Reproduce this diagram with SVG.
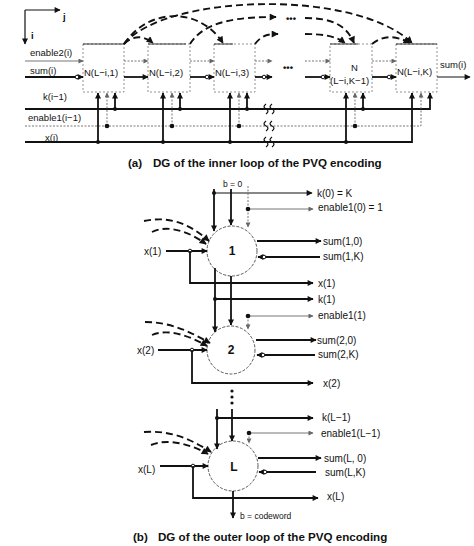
<svg xmlns="http://www.w3.org/2000/svg" width="474" height="546" viewBox="0 0 474 546">
<style>
text{font-family:"Liberation Sans",Arial,sans-serif;fill:#111}
.lb{font-size:9.5px}
.lb2{font-size:10px}
.sm{font-size:8.5px}
.cap{font-size:11.6px;font-weight:bold}
.nd{font-size:12px;font-weight:bold}
.box{fill:none;stroke:#777;stroke-width:0.8;stroke-dasharray:2,2}
.top{fill:none;stroke:#222;stroke-width:0.9}
.circ{fill:#fff;stroke:#444;stroke-width:0.9;stroke-dasharray:3,1.5}
.t{fill:none;stroke:#111;stroke-width:1.8}
.m{fill:none;stroke:#111;stroke-width:1.2}
.g{fill:none;stroke:#666;stroke-width:0.9}
.gd{fill:none;stroke:#666;stroke-width:0.9;stroke-dasharray:2,1.5}
.d{fill:none;stroke:#111;stroke-width:1.9;stroke-dasharray:7,4}
.dot{fill:#111}
.oc{fill:#fff;stroke:#111;stroke-width:1}
</style>
<defs>
<marker id="ah" viewBox="0 0 10 10" refX="9" refY="5" markerWidth="8" markerHeight="6" markerUnits="userSpaceOnUse" orient="auto"><path d="M0,0 L10,5 L0,10 z" fill="#111"/></marker>
<marker id="ahg" viewBox="0 0 10 10" refX="9" refY="5" markerWidth="7" markerHeight="5" markerUnits="userSpaceOnUse" orient="auto"><path d="M0,0 L10,5 L0,10 z" fill="#666"/></marker>
<marker id="ahd" viewBox="0 0 10 10" refX="9" refY="5" markerWidth="9" markerHeight="7" markerUnits="userSpaceOnUse" orient="auto"><path d="M0,0 L10,5 L0,10 z" fill="#111"/></marker>
</defs>

<!-- axis -->
<g id="axis">
<path class="m" d="M25,10 H60" marker-end="url(#ah)"/>
<path class="m" d="M25,10 V44" marker-end="url(#ah)"/>
<text x="63" y="20" class="lb" font-weight="bold">j</text>
<text x="31" y="39" class="lb" font-weight="bold">i</text>
</g>

<!-- top panel nodes -->
<g id="n1"><rect class="box" x="83" y="44" width="41" height="48"/><path class="top" d="M83,44 H124"/><text x="84" y="76" class="lb">N(L−i,1)</text></g>
<g id="n2"><rect class="box" x="148" y="44" width="42" height="48"/><path class="top" d="M148,44 H186"/><text x="149" y="76" class="lb">N(L−i,2)</text></g>
<g id="n3"><rect class="box" x="214" y="44" width="41" height="48"/><path class="top" d="M214,44 H233"/><text x="215" y="76" class="lb">N(L−i,3)</text></g>
<g id="nK1"><rect class="box" x="330" y="44" width="42" height="48"/><path class="top" d="M330,44 H358"/><text x="351" y="71" class="lb">N</text><text x="330" y="84" class="lb">(L−i,K−1)</text></g>
<g id="nK"><rect class="box" x="396" y="44" width="41" height="48"/><path class="top" d="M396,44 H437"/><text x="397" y="75" class="lb">N(L−i,K)</text></g>

<!-- top panel labels -->
<g id="labels-a">
<text x="30" y="56" class="lb">enable2(i)</text>
<text x="30" y="74" class="lb">sum(i)</text>
<text x="43" y="100" class="lb">k(i−1)</text>
<text x="28" y="121" class="lb">enable1(i−1)</text>
<text x="45" y="141" class="lb">x(i)</text>
<text x="440" y="68" class="lb">sum(i)</text>
<text x="283" y="71" class="lb" font-weight="bold">•••</text>
<text x="286" y="22" class="lb" font-weight="bold">•••</text>
<text x="128" y="167" class="cap">(a)</text>
<text x="153" y="167" class="cap">DG of the inner loop  of the PVQ encoding</text>
</g>

<!-- top panel connectors -->
<g id="connectors-a">
<path class="g" d="M25,61 H83" marker-end="url(#ahg)"/>
<path class="gd" d="M124,61 H148" marker-end="url(#ahg)"/>
<path class="gd" d="M190,61 H214" marker-end="url(#ahg)"/>
<path class="gd" d="M255,61 H272" marker-end="url(#ahg)"/>
<path class="gd" d="M305,61 H330" marker-end="url(#ahg)"/>
<path class="gd" d="M372,61 H396" marker-end="url(#ahg)"/>
<path class="t" d="M25,77 H83" marker-end="url(#ah)"/>
<path class="t" d="M124,77 H148" marker-end="url(#ah)"/>
<path class="t" d="M190,77 H214" marker-end="url(#ah)"/>
<path class="t" d="M255,77 H272" marker-end="url(#ah)"/>
<path class="t" d="M305,77 H330" marker-end="url(#ah)"/>
<path class="t" d="M372,77 H396" marker-end="url(#ah)"/>
<path class="m" d="M437,77 H470" marker-end="url(#ah)"/>
<circle class="oc" cx="77" cy="77" r="1.8"/>
<circle class="oc" cx="207" cy="77" r="1.8"/>
<circle class="oc" cx="264" cy="77" r="1.8"/>
<circle class="oc" cx="323" cy="77" r="1.8"/>
<circle class="oc" cx="389" cy="77" r="1.8"/>
<path class="t" d="M25,109 H430 V93" marker-end="url(#ah)"/>
<path class="gd" d="M25,126 H421 V93" marker-end="url(#ahg)"/>
<path class="t" d="M25,142 H412 V93" marker-end="url(#ah)"/>
<path class="t" d="M98,142 V93" marker-end="url(#ah)"/>
<path class="gd" d="M107,126 V93" marker-end="url(#ahg)"/>
<path class="t" d="M115,109 V93" marker-end="url(#ah)"/>
<path class="t" d="M163,142 V93" marker-end="url(#ah)"/>
<path class="gd" d="M172,126 V93" marker-end="url(#ahg)"/>
<path class="t" d="M180,109 V93" marker-end="url(#ah)"/>
<path class="t" d="M230,142 V93" marker-end="url(#ah)"/>
<path class="gd" d="M239,126 V93" marker-end="url(#ahg)"/>
<path class="t" d="M247,109 V93" marker-end="url(#ah)"/>
<path class="t" d="M346,142 V93" marker-end="url(#ah)"/>
<path class="gd" d="M355,126 V93" marker-end="url(#ahg)"/>
<path class="t" d="M363,109 V93" marker-end="url(#ah)"/>
<circle class="dot" cx="98" cy="142" r="2"/><circle class="dot" cx="107" cy="126" r="2.3"/><circle class="dot" cx="115" cy="109" r="2"/>
<circle class="dot" cx="163" cy="142" r="2"/><circle class="dot" cx="172" cy="126" r="2.3"/><circle class="dot" cx="180" cy="109" r="2"/>
<circle class="dot" cx="230" cy="142" r="2"/><circle class="dot" cx="239" cy="126" r="2.3"/><circle class="dot" cx="247" cy="109" r="2"/>
<circle class="dot" cx="346" cy="142" r="2"/><circle class="dot" cx="355" cy="126" r="2.3"/><circle class="dot" cx="363" cy="109" r="2"/>
<path class="m" d="M266,104 Q262,107 266,109 Q270,111 266,114 M272,104 Q268,107 272,109 Q276,111 272,114"/>
<path class="m" d="M266,121 Q262,124 266,126 Q270,128 266,131 M272,121 Q268,124 272,126 Q276,128 272,131"/>
<path class="m" d="M266,137 Q262,140 266,142 Q270,144 266,147 M272,137 Q268,140 272,142 Q276,144 272,147"/>
<path class="d" d="M124,44 C165,-6 355,-12 412,43" marker-end="url(#ahd)"/>
<path class="d" d="M124,44 Q138,31 153,43" marker-end="url(#ahd)"/>
<path class="d" d="M124,44 C150,6 200,8 223,43" marker-end="url(#ahd)"/>
<path class="d" d="M190,44 C205,20 240,17 276,17" marker-end="url(#ahd)"/>
<path class="d" d="M305,18 C330,18 346,24 354,43" marker-end="url(#ahd)"/>
<path class="d" d="M255,44 C262,35 268,34 278,34" marker-end="url(#ahd)"/>
<path class="d" d="M305,34 C322,34 336,36 345,43" marker-end="url(#ahd)"/>
<path class="d" d="M372,44 Q388,31 410,43" marker-end="url(#ahd)"/>
</g>

<!-- bottom panel nodes -->
<g id="node1"><circle class="circ" cx="232" cy="251" r="25"/><text x="232" y="255" class="nd" text-anchor="middle">1</text></g>
<g id="node2"><circle class="circ" cx="231" cy="350" r="24"/><text x="231" y="354" class="nd" text-anchor="middle">2</text></g>
<g id="nodeL"><circle class="circ" cx="233" cy="466" r="25"/><text x="234" y="471" class="nd" text-anchor="middle">L</text></g>

<!-- bottom panel labels -->
<g id="labels-b">
<text x="223" y="187" class="sm">b = 0</text>
<text x="317" y="197" class="lb2">k(0) = K</text>
<text x="318" y="211" class="lb2">enable1(0) = 1</text>
<text x="144" y="255" class="lb2">x(1)</text>
<text x="323" y="245" class="lb2">sum(1,0)</text>
<text x="323" y="260" class="lb2">sum(1,K)</text>
<text x="318" y="287" class="lb2">x(1)</text>
<text x="318" y="303" class="lb2">k(1)</text>
<text x="318" y="319" class="lb2">enable1(1)</text>
<text x="137" y="354" class="lb2">x(2)</text>
<text x="317" y="344" class="lb2">sum(2,0)</text>
<text x="318" y="358" class="lb2">sum(2,K)</text>
<text x="323" y="387" class="lb2">x(2)</text>
<text x="322" y="421" class="lb2">k(L−1)</text>
<text x="321" y="437" class="lb2">enable1(L−1)</text>
<text x="138" y="473" class="lb2">x(L)</text>
<text x="324" y="462" class="lb2">sum(L, 0)</text>
<text x="325" y="476" class="lb2">sum(L,K)</text>
<text x="327" y="500" class="lb2">x(L)</text>
<text x="240" y="519" class="sm">b = codeword</text>
<text x="133" y="541" class="cap">(b)</text>
<text x="158" y="541" class="cap">DG of the outer loop of the PVQ encoding</text>
</g>

<!-- bottom panel connectors -->
<g id="connectors-b">
<path class="t" d="M214,189 V231" marker-end="url(#ah)"/>
<path class="t" d="M231,189 V225" marker-end="url(#ah)"/>
<path class="m" d="M214,193 H312" marker-end="url(#ah)"/>
<circle class="dot" cx="214" cy="193" r="2"/>
<path class="gd" d="M248,186 V209"/>
<path class="g" d="M248,209 H313" marker-end="url(#ahg)"/>
<path class="gd" d="M248,209 V227" marker-end="url(#ahg)"/>
<circle class="dot" cx="248" cy="209" r="2.3"/>
<path class="d" d="M144,221 C172,215 192,226 209,241" marker-end="url(#ahd)"/>
<path class="d" d="M152,232 C168,224 190,232 206,244" marker-end="url(#ahd)"/>
<path class="t" d="M166,251 H207" marker-end="url(#ah)"/>
<circle class="oc" cx="190" cy="251" r="1.8"/>
<path class="t" d="M190,251 V283 H313" marker-end="url(#ah)"/>
<path class="t" d="M257,241 H321" marker-end="url(#ah)"/>
<path class="t" d="M320,257 H258" marker-end="url(#ah)"/>
<circle class="oc" cx="264" cy="257" r="1.8"/>
<path class="t" d="M215,268 V332" marker-end="url(#ah)"/>
<path class="t" d="M231,276 V325" marker-end="url(#ah)"/>
<path class="t" d="M215,299 H313" marker-end="url(#ah)"/>
<circle class="dot" cx="215" cy="299" r="2"/>
<path class="g" d="M248,316 H313" marker-end="url(#ahg)"/>
<path class="gd" d="M248,316 V329" marker-end="url(#ahg)"/>
<circle class="dot" cx="248" cy="316" r="2.3"/>
<path class="d" d="M145,322 C172,322 192,333 210,343" marker-end="url(#ahd)"/>
<path class="d" d="M152,335 C168,328 190,336 207,346" marker-end="url(#ahd)"/>
<path class="t" d="M158,350 H207" marker-end="url(#ah)"/>
<circle class="oc" cx="192" cy="350" r="1.8"/>
<path class="t" d="M192,350 V383 H313" marker-end="url(#ah)"/>
<path class="t" d="M256,340 H316" marker-end="url(#ah)"/>
<path class="t" d="M315,355 H257" marker-end="url(#ah)"/>
<circle class="oc" cx="263" cy="355" r="1.8"/>
<circle class="dot" cx="232" cy="391" r="1.6"/>
<circle class="dot" cx="232" cy="397" r="1.6"/>
<circle class="dot" cx="232" cy="403" r="1.6"/>
<path class="t" d="M217,409 V449" marker-end="url(#ah)"/>
<path class="t" d="M232,409 V441" marker-end="url(#ah)"/>
<path class="t" d="M217,418 H313" marker-end="url(#ah)"/>
<circle class="dot" cx="217" cy="418" r="2"/>
<path class="g" d="M249,433 H313" marker-end="url(#ahg)"/>
<path class="gd" d="M249,433 V443" marker-end="url(#ahg)"/>
<circle class="dot" cx="249" cy="433" r="2.3"/>
<path class="d" d="M144,432 C172,430 192,440 211,452" marker-end="url(#ahd)"/>
<path class="d" d="M151,445 C168,438 190,444 208,454" marker-end="url(#ahd)"/>
<path class="t" d="M160,466 H208" marker-end="url(#ah)"/>
<circle class="oc" cx="193" cy="466" r="1.8"/>
<path class="t" d="M193,466 V498 H318" marker-end="url(#ah)"/>
<path class="t" d="M258,458 H321" marker-end="url(#ah)"/>
<path class="t" d="M316,472 H259" marker-end="url(#ah)"/>
<circle class="oc" cx="265" cy="472" r="1.8"/>
<path class="t" d="M233,491 V518" marker-end="url(#ah)"/>
</g>
</svg>
